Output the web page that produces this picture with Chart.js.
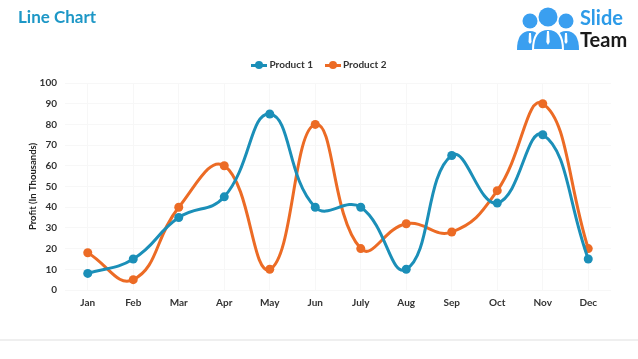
<!DOCTYPE html>
<html>
<head>
<meta charset="utf-8">
<script src="https://cdn.jsdelivr.net/npm/chart.js@4"></script>
<style>
  body { margin: 0; background: #fff; font-family: Lato, sans-serif; }
  #wrap { position: relative; width: 638px; height: 359px; overflow: hidden; }
  #title { position: absolute; left: 18px; top: 6px; font-size: 17px; font-weight: bold; color: #1d97c6; }
  #logo { position: absolute; left: 516px; top: 6px; }
  #logoText { position: absolute; left: 580px; top: 6px; font-size: 20px; font-weight: bold; line-height: 22px; }
  #legend { position: absolute; left: 0; width: 638px; top: 58px; text-align: center; font-size: 10px; font-weight: bold; color: #333; }
  .item { display: inline-block; margin: 0 6px; }
  .sw { display: inline-block; position: relative; width: 16px; height: 8px; vertical-align: middle; margin-right: 2px; }
  .sw .ln { position: absolute; left: 0; top: 3px; width: 16px; height: 2.5px; }
  .sw .dt { position: absolute; left: 4px; top: 0; width: 8px; height: 8px; border-radius: 50%; }
  #rule { position: absolute; left: 0; top: 339px; width: 638px; height: 2px; background: #efefef; }
  canvas { position: absolute; left: 0; top: 0; }
</style>
</head>
<body>
<div id="wrap">
  <canvas id="lineChart" width="638" height="359"></canvas>
  <div id="title">Line Chart</div>
  <svg id="logo" width="64" height="46" viewBox="0 0 64 46">
    <g fill="#3a9ff0">
      <circle cx="14" cy="15" r="7.5"/>
      <circle cx="50" cy="15" r="7.5"/>
      <path d="M1 44 Q1 25 14 25 Q26 25 26 44 Z"/>
      <path d="M38 44 Q38 25 50 25 Q63 25 63 44 Z"/>
      <circle cx="32" cy="11" r="9.5"/>
      <path d="M17 44 Q17 23 32 23 Q47 23 47 44 Z" stroke="#fff" stroke-width="2"/>
    </g>
    <g fill="#fff">
      <path d="M13 27 L15 27 L15.5 36 L14 38 L12.5 36 Z"/>
      <path d="M49 27 L51 27 L51.5 36 L50 38 L48.5 36 Z"/>
      <path d="M31 25 L33 25 L33.7 36 L32 39 L30.3 36 Z"/>
    </g>
  </svg>
  <div id="logoText"><span style="color:#2d9be8">Slide</span><br><span style="color:#1b1b1b">Team</span></div>
  <div id="legend"></div>
  <div id="rule"></div>
</div>
<script>
// ===== DATA =====
const months = ["Jan", "Feb", "Mar", "Apr", "May", "Jun", "July", "Aug", "Sep", "Oct", "Nov", "Dec"];
const product1 = [8, 15, 35, 45, 85, 40, 40, 10, 65, 42, 75, 15];
const product2 = [18, 5, 40, 60, 10, 80, 20, 32, 28, 48, 90, 20];
const seriesNames = ["Product 1", "Product 2"];
const seriesColors = ["#1b8fb8", "#ec6b25"];

// ===== LEGEND =====
const legend = document.getElementById("legend");
seriesNames.forEach((name, i) => {
  legend.innerHTML +=
    '<span class="item"><span class="sw"><span class="ln" style="background:' + seriesColors[i] +
    '"></span><span class="dt" style="background:' + seriesColors[i] + '"></span></span>' + name + '</span>';
});

// ===== CHART =====
const ctx = document.getElementById("lineChart").getContext("2d");

function makeSet(label, data, color) {
  return {
    label: label,
    data: data,
    borderColor: color,
    backgroundColor: color,
    borderWidth: 3,
    pointRadius: 4.5,
    pointBorderWidth: 0,
    pointHoverRadius: 4.5,
    tension: 0.45,
    fill: false
  };
}

new Chart(ctx, {
  type: "line",
  data: {
    labels: months,
    datasets: [
      makeSet(seriesNames[0], product1, seriesColors[0]),
      makeSet(seriesNames[1], product2, seriesColors[1])
    ]
  },
  options: {
    responsive: false,
    animation: false,
    layout: { padding: { left: 25, right: 27, top: 83, bottom: 43 } },
    plugins: { legend: { display: false }, tooltip: { enabled: false } },
    scales: {
      x: {
        offset: true,
        grid: { color: "#f7f7f7", drawTicks: false },
        border: { display: false },
        ticks: { color: "#333", font: { family: "Lato", size: 10, weight: "bold" }, padding: 7 }
      },
      y: {
        min: 0,
        max: 100,
        afterFit: (scale) => { scale.width = 40; },
        ticks: { stepSize: 10, color: "#333", font: { family: "Lato", size: 10, weight: "bold" }, padding: 8 },
        grid: { color: "#f7f7f7", drawTicks: false },
        border: { display: false },
        title: {
          display: true,
          text: "Profit (In Thousands)",
          color: "#222",
          font: { family: "Lato", size: 9.5, weight: "bold" },
          padding: 2
        }
      }
    }
  }
});
</script>
</body>
</html>
